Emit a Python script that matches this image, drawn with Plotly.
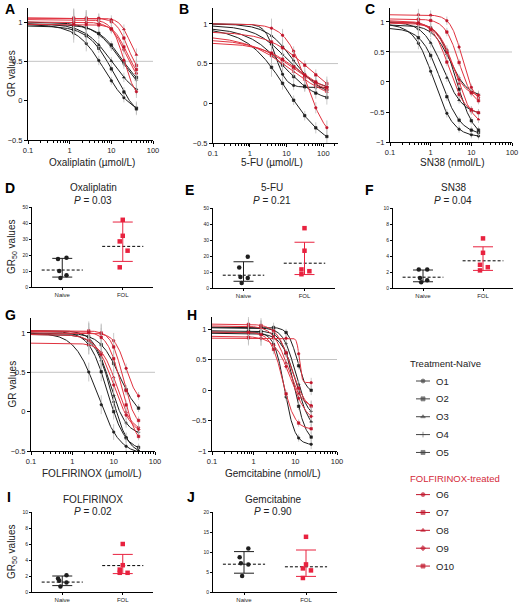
import numpy as np
import plotly.graph_objects as go

# =====================================================
# Data
# =====================================================

ORGANOIDS = ["O1", "O2", "O3", "O4", "O5", "O6", "O7", "O8", "O9", "O10"]

# dose-response fits (4-parameter logistic), one value per organoid O1..O10
OXA_DOSES = [1.25, 2.5, 5, 10, 20, 40]
OXA_TOP = [0.97, 0.95, 0.98, 1.0, 0.97, 1.03, 1.05, 1.05, 1.0, 0.97]
OXA_BOTTOM = [-0.2, -0.3, 0.0, 0.0, 0.1, 0.0, 0.3, 0.45, 0.2, 0.3]
OXA_EC = [7, 12, 10.5, 18, 17.5, 20, 25, 28, 22, 22]
OXA_HILL = [1.3, 1.4, 1.3, 1.3, 1.5, 3, 3, 3.5, 2.5, 3]
OXA_SD = [0.12, 0.1, 0.06, 0.05, 0.06, 0.08]

FU_DOSES = [3.9, 7.8, 15.6, 31.25, 62.5, 125]
FU_TOP = [1.0, 0.95, 1.0, 0.98, 0.95, 1.0, 0.9, 0.85, 0.8, 0.76]
FU_BOTTOM = [0.2, -0.6, 0.1, 0.15, 0.0, -0.5, 0.0, 0.0, 0.05, 0.1]
FU_EC = [5, 10, 15, 10, 8, 35, 37, 13, 17, 19]
FU_HILL = [3, 0.8, 1.2, 1.0, 0.9, 1.5, 0.8, 0.7, 0.8, 0.9]
FU_SD = [0.12, 0.08, 0.06, 0.06, 0.07, 0.09]

SN_DOSES = [0.5, 1, 2.5, 5, 10, 15]
SN_TOP = [0.97, 0.9, 1.0, 0.95, 1.0, 1.12, 1.05, 1.0, 0.98, 1.02]
SN_BOTTOM = [-0.92, -0.88, -0.55, -0.25, -0.95, -0.35, -0.4, -0.75, -0.25, -0.55]
SN_EC = [1.2, 1.8, 2.0, 3.0, 4.3, 6, 5, 4.2, 3, 2.8]
SN_HILL = [1.8, 1.8, 1.8, 2.0, 2.0, 3, 2.5, 2, 2.3, 2.2]
SN_SD = [0.1, 0.08, 0.07, 0.06, 0.06, 0.06]

FFX_DOSES = [2.5, 5, 10, 20, 40]
FFX_TOP = [1.0, 1.02, 0.98, 1.03, 1.0, 1.0, 1.03, 0.87, 0.98, 1.02]
FFX_BOTTOM = [-0.55, -0.5, -0.55, -0.3, -0.1, 0.1, -0.2, -0.25, -0.3, -0.45]
FFX_EC = [4, 7, 9, 8, 14, 20, 17, 12, 10, 16]
FFX_HILL = [1.6, 2, 2.2, 2.2, 1.8, 3, 3, 2.5, 2, 2.5]
FFX_SD = [0.12, 0.12, 0.1, 0.06, 0.05]

GEM_DOSES = [0.75, 1.5, 3, 6, 12, 24]
GEM_TOP = [0.95, 0.97, 0.93, 1.02, 1.03, 0.85, 1.08, 1.05, 0.88, 0.95]
GEM_BOTTOM = [-0.9, -0.88, -0.7, -0.45, -0.05, 0.12, -0.35, -0.3, -0.55, -0.65]
GEM_EC = [5.5, 9.5, 10.5, 10, 11, 12.5, 8, 6.5, 8, 5]
GEM_HILL = [3.5, 3, 2.5, 3, 4, 15, 2.5, 2.5, 2.2, 3]
GEM_SD = [0.12, 0.12, 0.08, 0.06, 0.06, 0.08]

# GR50 values (Naive = O1..O5, FOL = O6..O10), with centre line and bar ends
OXA_GR50_NAIVE = [18.3, 17.5, 10.0, 7.3, 5.6]
OXA_GR50_FOL = [42, 32, 28.5, 22.7, 12.3]
OXA_SUMMARY = [(10.6, 6.2, 17.9), (25.4, 16, 40.6)]
OXA_P = "0.03"

FU_GR50_NAIVE = [19.5, 12.8, 6.9, 6.3, 3.2]
FU_GR50_FOL = [37.4, 23.3, 11.6, 10.5, 8.6]
FU_SUMMARY = [(8, 4.2, 16.4), (15.5, 8.4, 28.6)]
FU_P = "0.21"

SN_GR50_NAIVE = [2.3, 2.3, 1.26, 0.97, 0.72]
SN_GR50_FOL = [6.2, 4.4, 2.9, 2.6, 2.2]
SN_SUMMARY = [(1.35, 0.78, 2.25), (3.4, 2.2, 5.15)]
SN_P = "0.04"

FFX_GR50_NAIVE = [2.1, 1.7, 1.4, 1.2, 0.7]
FFX_GR50_FOL = [6.0, 3.35, 2.8, 2.4, 2.4]
FFX_SUMMARY = [(1.24, 0.8, 2.0), (3.3, 2.3, 4.7)]
FFX_P = "0.02"

GEM_GR50_NAIVE = [10.9, 8.7, 7.2, 6.9, 4.0]
GEM_GR50_FOL = [13.8, 6.9, 5.9, 5.4, 3.5]
GEM_SUMMARY = [(6.95, 4.7, 10.1), (6.3, 3.9, 10.5)]
GEM_P = "0.90"

GROUPS = ["Naive", "FOL"]
GROUP_TITLES = ["Treatment-Naïve", "FOLFIRINOX-treated"]

# =====================================================
# Style
# =====================================================

W, H = 520, 605
FONT = "Liberation Sans, Arial, sans-serif"
INK = "#222222"
BLACK = "#1e1e1e"
RED = "#e0323f"
RED_DARK = "#c0142a"
RED_PT = "#e8223f"
RED_TEXT = "#d42a3a"
GREY = "#bdbdbd"
SYMBOLS = ["circle", "square", "triangle-up", "cross-thin", "square",
           "circle", "square", "triangle-up", "diamond", "square"]
NAIVE_JITTER = [0.07, -0.07, -0.05, 0.07, -0.03]
FOL_JITTER = [0.0, 0.0, -0.05, 0.08, -0.05]


def px(x):
    return x / W


def py(y):
    return 1 - y / H


def hill(x, top, bottom, ec, h):
    return bottom + (top - bottom) / (1 + (np.asarray(x) / ec) ** h)


fig = go.Figure()
layout_axes = {}
annotations = []
shapes = []


def ax_names(n):
    return ("x" if n == 1 else f"x{n}"), ("y" if n == 1 else f"y{n}")


def ax_keys(n):
    return ("xaxis" if n == 1 else f"xaxis{n}"), ("yaxis" if n == 1 else f"yaxis{n}")


def text(s, x, y, size=10, color=INK, xanchor="center", **kw):
    annotations.append(dict(text=s, x=px(x), y=py(y), xref="paper", yref="paper",
                            xanchor=xanchor, yanchor="middle", showarrow=False,
                            font=dict(size=size, family=FONT, color=color), **kw))


# =====================================================
# Dose-response panels
# =====================================================

dose_panels = [
    dict(doses=OXA_DOSES, top=OXA_TOP, bot=OXA_BOTTOM, ec=OXA_EC, h=OXA_HILL, sd=OXA_SD,
         xd=(28, 153), yd=(8, 140), xr=[-1, 2], yr=[-0.5, 1.178], yt=[-0.5, 0, 0.5, 1],
         label="Oxaliplatin (µmol/L)", lx=92, ly=162, letter="A", ltx=3, lty=9, ylab=True),
    dict(doses=FU_DOSES, top=FU_TOP, bot=FU_BOTTOM, ec=FU_EC, h=FU_HILL, sd=FU_SD,
         xd=(213, 338), yd=(8, 143), xr=[-1, 2.4], yr=[-0.5, 1.2], yt=[-0.5, 0, 0.5, 1],
         label="5-FU (µmol/L)", lx=272, ly=162, letter="B", ltx=177, lty=9, ylab=False),
    dict(doses=SN_DOSES, top=SN_TOP, bot=SN_BOTTOM, ec=SN_EC, h=SN_HILL, sd=SN_SD,
         xd=(390, 512), yd=(8, 142), xr=[-1, 2], yr=[-1, 1.233], yt=[-1, -0.5, 0, 0.5, 1],
         label="SN38 (nmol/L)", lx=452, ly=162, letter="C", ltx=363, lty=9, ylab=False),
    dict(doses=FFX_DOSES, top=FFX_TOP, bot=FFX_BOTTOM, ec=FFX_EC, h=FFX_HILL, sd=FFX_SD,
         xd=(31, 155), yd=(318, 451), xr=[-1, 2], yr=[-0.5, 1.19], yt=[-0.5, 0, 0.5, 1],
         label="FOLFIRINOX (µmol/L)", lx=92, ly=473, letter="G", ltx=3, lty=315, ylab=True),
    dict(doses=GEM_DOSES, top=GEM_TOP, bot=GEM_BOTTOM, ec=GEM_EC, h=GEM_HILL, sd=GEM_SD,
         xd=(212, 337), yd=(317, 451), xr=[-1, 2], yr=[-1, 1.197], yt=[-1, -0.5, 0, 0.5, 1],
         label="Gemcitabine (nmol/L)", lx=273, ly=473, letter="H", ltx=185, lty=315, ylab=False),
]

minor_vals = [m * 10 ** e for e in (-1, 0, 1, 2) for m in range(2, 10)]
n = 0
for p in dose_panels:
    n += 1
    xn, yn = ax_names(n)
    xk, yk = ax_keys(n)
    grid = np.logspace(-1, np.log10(max(p["doses"])), 240)
    for i, org in enumerate(ORGANOIDS):
        col = BLACK if i < 5 else RED
        pcol = BLACK if i < 5 else RED_DARK
        args = (p["top"][i], p["bot"][i], p["ec"][i], p["h"][i])
        fig.add_trace(go.Scatter(
            x=grid, y=hill(grid, *args), mode="lines", xaxis=xn, yaxis=yn,
            line=dict(color=col, width=1), showlegend=False, hoverinfo="skip"))
        fig.add_trace(go.Scatter(
            x=p["doses"], y=hill(p["doses"], *args), mode="markers", xaxis=xn, yaxis=yn,
            marker=dict(symbol=SYMBOLS[i], size=2.5, color=pcol, line=dict(width=0.6, color=pcol)),
            error_y=dict(type="data", array=p["sd"], color=GREY, thickness=0.8, width=0),
            showlegend=False, name=org))
    layout_axes[xk] = dict(
        domain=[px(p["xd"][0]), px(p["xd"][1])], type="log", range=p["xr"], anchor=yn,
        showline=True, linecolor="black", linewidth=1, ticks="outside", ticklen=3,
        tickcolor="black", tickvals=[0.1, 1, 10, 100], ticktext=["0.1", "1", "10", "100"],
        minor=dict(ticks="outside", ticklen=1.5, tickcolor="black", tickvals=minor_vals),
        showgrid=False, zeroline=False, automargin=False,
        tickfont=dict(size=7.5, family=FONT, color=INK))
    layout_axes[yk] = dict(
        domain=[py(p["yd"][1]), py(p["yd"][0])], range=p["yr"], anchor=xn,
        showline=True, linecolor="black", linewidth=1, ticks="outside", ticklen=3,
        tickcolor="black", tickvals=p["yt"],
        ticktext=[("−" + f"{abs(v):g}") if v < 0 else f"{v:g}" for v in p["yt"]],
        showgrid=False, zeroline=False, automargin=False,
        tickfont=dict(size=7.5, family=FONT, color=INK))
    shapes.append(dict(type="line", xref=f"{xn} domain", x0=0, x1=1, yref=yn, y0=0.5, y1=0.5,
                       line=dict(color="#c4c4c4", width=1), layer="below"))
    text(p["label"], p["lx"], p["ly"])
    text("<b>" + p["letter"] + "</b>", p["ltx"], p["lty"], size=14, color="black", xanchor="left")
    if p["ylab"]:
        text("GR values", 12, (p["yd"][0] + p["yd"][1]) / 2, textangle=-90)

# =====================================================
# GR50 comparison panels
# =====================================================

gr50_panels = [
    dict(naive=OXA_GR50_NAIVE, fol=OXA_GR50_FOL, summ=OXA_SUMMARY, pval=OXA_P, title="Oxaliplatin",
         xd=(32, 153), yd=(207, 287), ymax=50, dt=10, tx=93, ty=188, letter="D", ltx=3, lty=188),
    dict(naive=FU_GR50_NAIVE, fol=FU_GR50_FOL, summ=FU_SUMMARY, pval=FU_P, title="5-FU",
         xd=(213, 335), yd=(208, 288), ymax=50, dt=10, tx=272, ty=188, letter="E", ltx=183, lty=190),
    dict(naive=SN_GR50_NAIVE, fol=SN_GR50_FOL, summ=SN_SUMMARY, pval=SN_P, title="SN38",
         xd=(393, 513), yd=(208, 288), ymax=10, dt=2, tx=453, ty=188, letter="F", ltx=363, lty=190),
    dict(naive=FFX_GR50_NAIVE, fol=FFX_GR50_FOL, summ=FFX_SUMMARY, pval=FFX_P, title="FOLFIRINOX",
         xd=(32, 153), yd=(512, 592), ymax=10, dt=2, tx=93, ty=499, letter="I", ltx=5, lty=497),
    dict(naive=GEM_GR50_NAIVE, fol=GEM_GR50_FOL, summ=GEM_SUMMARY, pval=GEM_P, title="Gemcitabine",
         xd=(213, 337), yd=(512, 592), ymax=20, dt=5, tx=273, ty=499, letter="J", ltx=185, lty=497),
]

for p in gr50_panels:
    n += 1
    xn, yn = ax_names(n)
    xk, yk = ax_keys(n)
    for g, (vals, jit, col, sym) in enumerate([
            (p["naive"], NAIVE_JITTER, BLACK, "circle"),
            (p["fol"], FOL_JITTER, RED_PT, "square")]):
        med, lo, hi = p["summ"][g]
        fig.add_trace(go.Scatter(
            x=[g - 0.34, g + 0.34], y=[med, med], mode="lines", xaxis=xn, yaxis=yn,
            line=dict(color="black", width=1, dash="3px,2px"), showlegend=False, hoverinfo="skip"))
        fig.add_trace(go.Scatter(
            x=[g], y=[med], mode="markers", xaxis=xn, yaxis=yn, marker=dict(size=0.1, opacity=0),
            error_y=dict(type="data", symmetric=False, array=[hi - med], arrayminus=[med - lo],
                         color=col, thickness=1, width=10),
            showlegend=False, hoverinfo="skip"))
        fig.add_trace(go.Scatter(
            x=[g + j for j in jit], y=vals, mode="markers", xaxis=xn, yaxis=yn,
            marker=dict(symbol=sym, size=4.5, color=col), showlegend=False))
    layout_axes[xk] = dict(
        domain=[px(p["xd"][0]), px(p["xd"][1])], range=[-0.5, 1.5], anchor=yn,
        showline=True, linecolor="black", linewidth=1, ticks="outside", ticklen=2,
        tickcolor="black", tickvals=[0, 1], ticktext=GROUPS, showgrid=False, zeroline=False,
        automargin=False, tickfont=dict(size=6, family=FONT, color=INK))
    layout_axes[yk] = dict(
        domain=[py(p["yd"][1]), py(p["yd"][0])], range=[0, p["ymax"]], anchor=xn,
        showline=True, linecolor="black", linewidth=1, ticks="outside", ticklen=2,
        tickcolor="black", dtick=p["dt"], tick0=0, showgrid=False, zeroline=False,
        automargin=False, tickfont=dict(size=5, family=FONT, color=INK))
    text(p["title"], p["tx"], p["ty"])
    text("<i>P</i> = " + p["pval"], p["tx"], p["ty"] + 12)
    text("<b>" + p["letter"] + "</b>", p["ltx"], p["lty"], size=14, color="black", xanchor="left")
    if p["xd"][0] < 100:
        text("GR<sub>50</sub> values", 12, (p["yd"][0] + p["yd"][1]) / 2, textangle=-90)

# =====================================================
# Key (drawn on its own hidden axis, one row per organoid)
# =====================================================

n += 1
xn, yn = ax_names(n)
xk, yk = ax_keys(n)
rows = [i if i < 5 else i + 1.36 for i in range(len(ORGANOIDS))]
for i, org in enumerate(ORGANOIDS):
    col = "#444" if i < 5 else RED_DARK
    fig.add_trace(go.Scatter(
        x=[0, 0.5, 1], y=[rows[i]] * 3, mode="lines+markers", xaxis=xn, yaxis=yn,
        line=dict(color=col, width=1),
        marker=dict(symbol=SYMBOLS[i], size=[0, 4, 0], color=col, line=dict(width=0.8, color=col)),
        showlegend=False, hoverinfo="skip"))
    annotations.append(dict(text=org, x=px(434), y=rows[i], xref="paper", yref=yn,
                            xanchor="left", yanchor="middle", showarrow=False,
                            font=dict(size=9.5, family=FONT, color=INK)))
layout_axes[xk] = dict(domain=[px(416), px(430)], range=[0, 1], visible=False, anchor=yn)
layout_axes[yk] = dict(domain=[py(575), py(376)], range=[10.86, -0.28], visible=False, anchor=xn)
text(GROUP_TITLES[0], 408, 363, size=9.5, color=INK, xanchor="left")
text(GROUP_TITLES[1], 408, 478, size=9.5, color=RED_TEXT, xanchor="left")

fig.update_layout(
    width=W, height=H, margin=dict(l=0, r=0, t=0, b=0, autoexpand=False),
    plot_bgcolor="white", paper_bgcolor="white",
    font=dict(family=FONT, color=INK),
    showlegend=False,
    annotations=annotations, shapes=shapes,
    **layout_axes,
)

fig.write_html("out.html", config={"displayModeBar": False},
               post_script="document.body.style.margin='0';")
